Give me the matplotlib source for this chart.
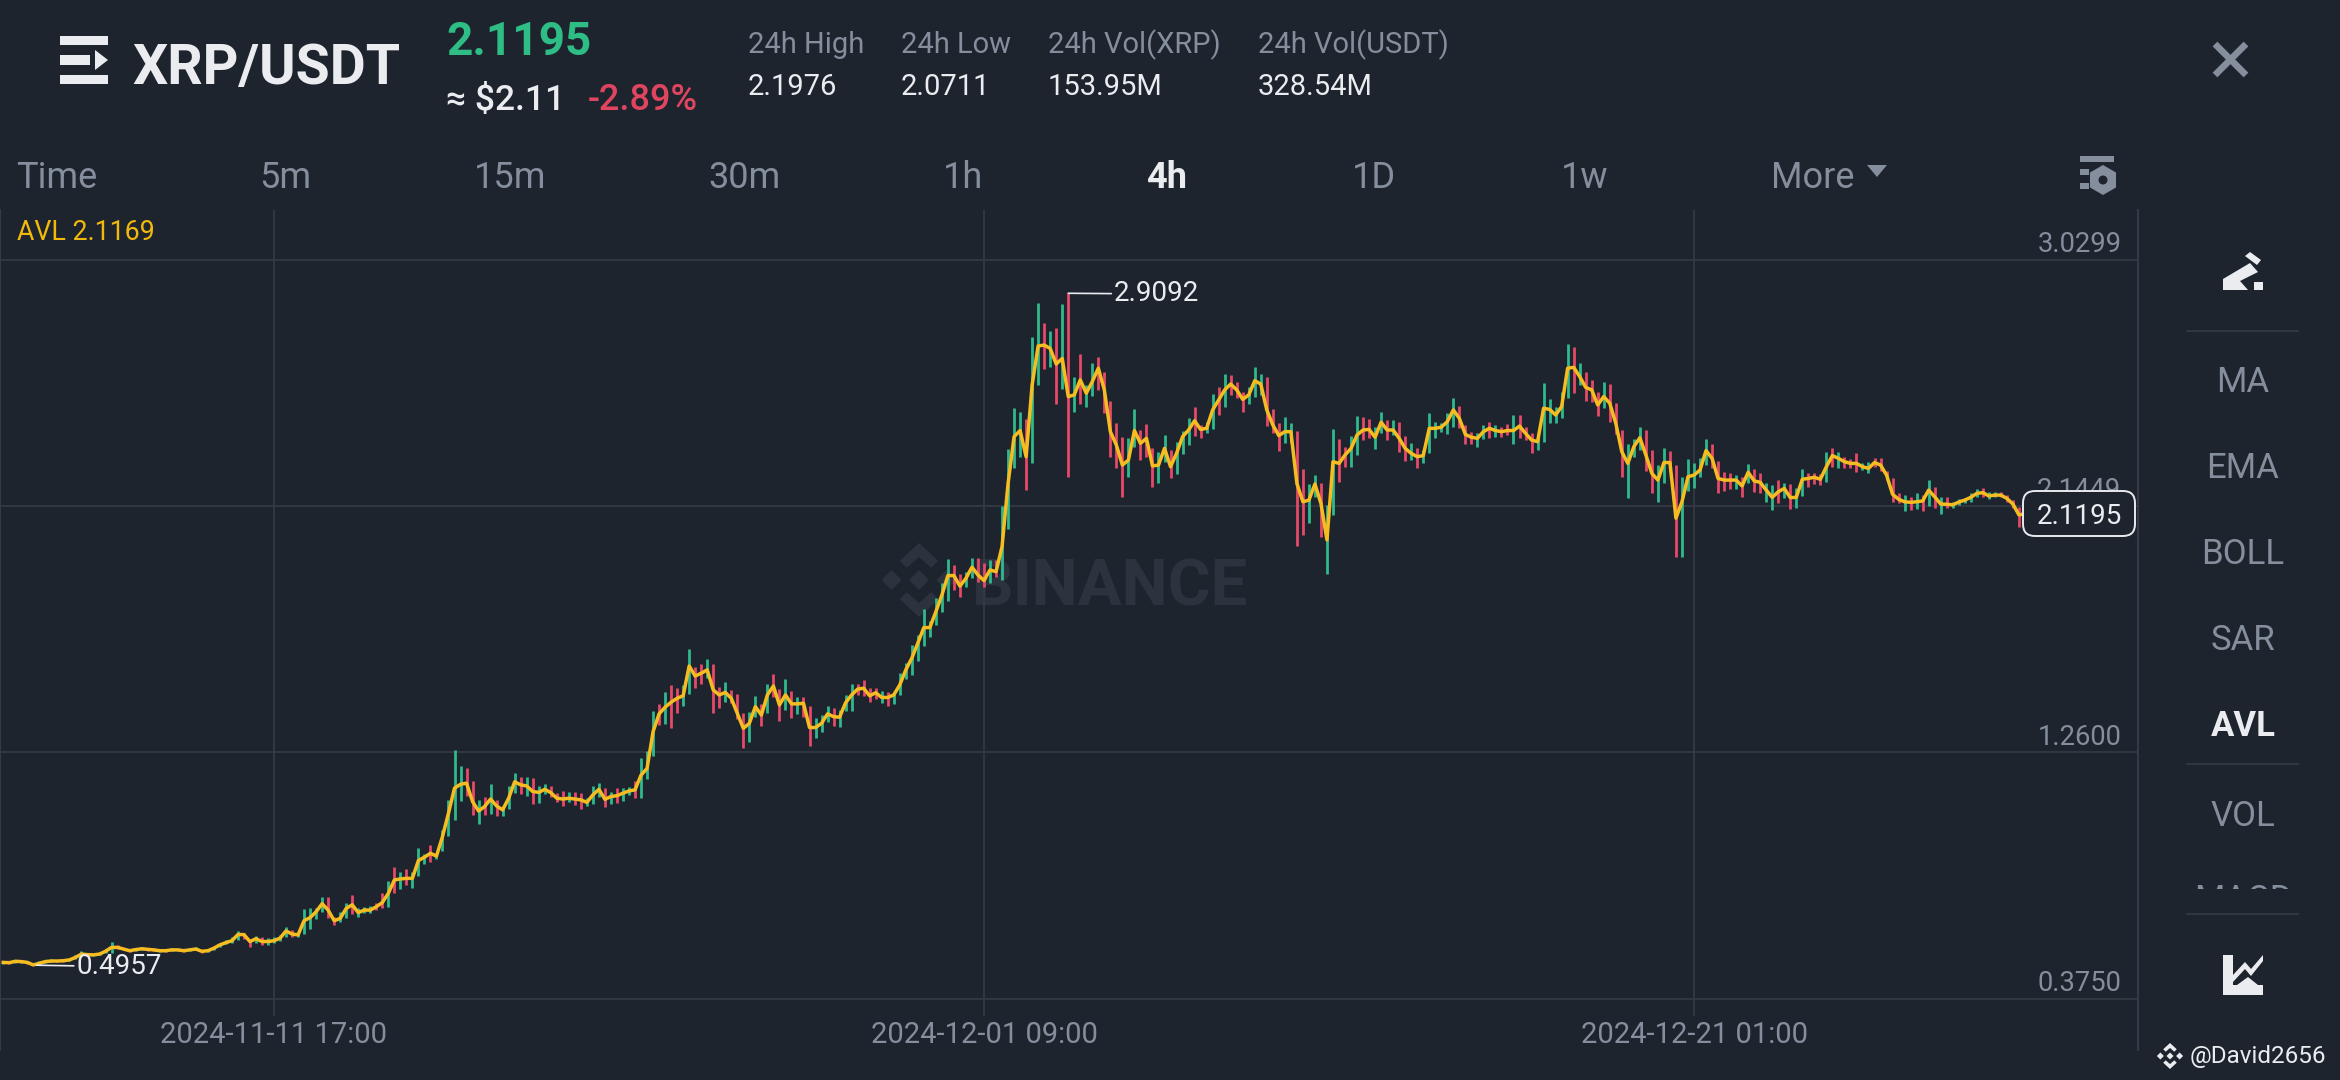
import matplotlib
matplotlib.use('Agg')
import matplotlib.pyplot as plt
from matplotlib.patches import Polygon, FancyBboxPatch, Rectangle, Circle, RegularPolygon
import numpy as np

plt.rcParams['font.family'] = ['Roboto', 'DejaVu Sans']

BG = '#1e242e'
GRID = '#353b46'
GREY = '#848e9c'
GREEN = '#2fb98c'
RED = '#e54a68'
YELLOW = '#f5bd22'

# 4h candles
avl_price = [
    .505,.504,.509,.508,.505,.496,.502,.508,.510,.510,
    .511,.514,.523,.535,.533,.532,.535,.545,.559,.559,
    .553,.547,.551,.554,.552,.550,.547,.547,.550,.550,
    .547,.550,.553,.545,.547,.556,.568,.576,.583,.605,
    .605,.580,.590,
    .580,.580,.583,.592,.618,.607,.604,
    .655,.666,.687,.716,.693,.655,.663,.699,.712,.684,
    .693,.693,.705,.720,.753,.801,.805,.807,.807,.871,
    .883,.897,.887,.957,1.041,1.131,1.145,1.149,1.083,1.049,
    1.065,1.092,1.067,1.053,1.095,1.154,1.143,1.139,1.119,1.116,
    1.127,1.115,1.095,1.092,1.095,1.092,1.089,1.080,1.107,1.127,
    1.091,1.101,1.104,1.113,1.121,1.125,1.178,1.202,
    1.334,1.398,1.422,1.440,1.454,1.463,1.570,1.534,1.544,1.556,
    1.484,1.466,1.475,1.454,1.400,1.346,1.364,1.424,1.394,1.466,
    1.498,1.430,1.466,1.434,1.434,1.436,1.349,1.349,1.364,1.398,
    1.388,1.386,1.438,1.466,1.487,1.490,1.463,1.474,1.457,1.457,
    1.466,1.502,1.556,1.598,1.652,1.708,1.708,1.765,1.825,1.895,
    1.895,1.857,1.885,1.925,1.897,1.877,1.915,1.909,1.999,2.226,
    2.394,2.416,2.322,2.580,2.720,2.723,2.711,2.655,2.675,2.538,
    2.544,2.598,2.550,2.592,2.640,2.562,2.412,2.364,2.292,2.310,
    2.416,2.370,2.388,2.289,2.292,2.352,2.286,2.334,2.394,2.418,
    2.451,2.420,2.424,2.490,2.526,2.562,2.583,2.562,2.528,2.544,
    2.595,2.583,2.490,2.436,2.398,2.412,2.412,2.226,2.160,2.166,
    2.224,2.154,2.023,
    2.304,2.298,2.328,2.352,2.400,2.418,2.420,2.392,2.446,2.418,
    2.418,2.388,2.352,2.334,2.322,2.326,2.424,2.424,2.428,2.448,
    2.490,2.460,2.402,2.392,2.388,2.412,2.424,2.416,2.412,2.416,
    2.416,2.432,2.406,2.382,2.376,2.496,2.492,2.472,2.502,2.640,
    2.643,2.610,2.571,2.562,2.508,2.538,2.514,2.442,2.340,2.298,
    2.358,2.390,2.328,2.262,2.238,2.301,2.301,2.101,2.160,2.250,
    2.256,2.274,2.344,2.316,2.244,2.238,2.238,2.238,2.217,2.266,
    2.235,2.230,2.202,2.176,2.196,2.208,2.175,2.176,2.241,2.244,
    2.248,2.241,2.286,2.326,2.316,2.304,2.298,2.298,2.286,2.280,
    2.301,2.292,2.256,2.187,2.169,2.160,2.158,2.160,2.163,2.202,
    2.178,2.152,2.151,2.149,2.159,2.166,2.176,2.190,2.193,2.181,
    2.184,2.184,2.172,2.152,2.113,2.1169,
]

high_price = [
    .510,.508,.512,.512,.508,.501,.510,.512,.516,.514,
    .515,.519,.530,.545,.538,.537,.540,.552,.577,.566,
    .558,.553,.557,.562,.557,.555,.552,.552,.557,.554,
    .552,.556,.562,.551,.552,.562,.575,.586,.595,.617,
    .612,.588,.600,
    .595,.592,.598,.604,.631,.622,.616,
    .697,.702,.699,.739,.739,.669,.687,.720,.747,.699,
    .703,.708,.717,.753,.799,.847,.829,.839,.831,.915,
    .895,.927,.899,.981,1.089,1.268,1.212,1.202,1.158,1.089,
    1.101,1.145,1.089,1.067,1.139,1.184,1.172,1.172,1.166,1.139,
    1.145,1.140,1.113,1.122,1.116,1.116,1.113,1.095,1.139,1.151,
    1.131,1.119,1.131,1.131,1.134,1.158,1.238,1.265,
    1.408,1.432,1.475,1.502,1.490,1.502,1.630,1.568,1.576,1.595,
    1.577,1.496,1.511,1.484,1.468,1.402,1.404,1.462,1.432,1.505,
    1.540,1.486,1.523,1.481,1.457,1.457,1.428,1.384,1.394,1.428,
    1.418,1.412,1.466,1.505,1.504,1.520,1.490,1.490,1.480,1.475,
    1.478,1.546,1.580,1.646,1.681,1.774,1.733,1.816,1.867,1.954,
    1.933,1.900,1.909,1.957,1.957,1.939,1.951,1.951,2.145,2.350,
    2.496,2.484,2.456,2.751,2.873,2.801,2.774,2.783,2.869,2.9092,
    2.607,2.690,2.580,2.657,2.679,2.628,2.522,2.442,2.394,2.388,
    2.493,2.418,2.439,2.352,2.340,2.400,2.346,2.374,2.414,2.462,
    2.499,2.436,2.448,2.547,2.571,2.619,2.616,2.592,2.556,2.574,
    2.646,2.619,2.607,2.492,2.442,2.463,2.442,2.414,2.278,2.224,
    2.256,2.226,2.148,
    2.420,2.386,2.358,2.398,2.470,2.464,2.456,2.430,2.484,2.454,
    2.454,2.446,2.396,2.370,2.352,2.346,2.478,2.446,2.442,2.478,
    2.532,2.504,2.436,2.412,2.408,2.436,2.448,2.436,2.428,2.438,
    2.472,2.472,2.430,2.408,2.406,2.586,2.529,2.502,2.556,2.727,
    2.715,2.658,2.628,2.598,2.556,2.592,2.583,2.516,2.418,2.368,
    2.386,2.430,2.418,2.346,2.292,2.354,2.343,2.292,2.248,2.313,
    2.298,2.316,2.386,2.368,2.307,2.266,2.265,2.256,2.248,2.295,
    2.277,2.262,2.226,2.220,2.238,2.226,2.224,2.208,2.278,2.262,
    2.265,2.260,2.340,2.352,2.340,2.322,2.313,2.334,2.298,2.304,
    2.316,2.316,2.272,2.244,2.190,2.184,2.178,2.190,2.184,2.238,
    2.214,2.178,2.178,2.160,2.169,2.175,2.193,2.205,2.208,2.196,
    2.196,2.196,2.184,2.166,2.142,2.135,
]

low_price = [
    .500,.500,.504,.503,.500,.495,.497,.503,.505,.506,
    .506,.509,.518,.528,.528,.527,.530,.540,.540,.553,
    .548,.543,.546,.549,.547,.545,.543,.543,.545,.545,
    .542,.545,.548,.540,.542,.551,.561,.570,.575,.585,
    .590,.560,.575,
    .568,.568,.574,.583,.598,.595,.595,
    .606,.624,.661,.687,.666,.639,.649,.663,.679,.669,
    .681,.684,.693,.699,.705,.756,.770,.783,.774,.816,
    .859,.867,.875,.905,.959,1.017,1.084,1.104,1.036,1.002,
    1.035,1.037,1.032,1.031,1.055,1.113,1.109,1.104,1.074,1.079,
    1.110,1.101,1.083,1.067,1.083,1.071,1.055,1.067,1.074,1.101,
    1.065,1.074,1.077,1.085,1.107,1.095,1.097,1.163,
    1.247,1.358,1.362,1.349,1.400,1.426,1.469,1.490,1.505,1.526,
    1.402,1.418,1.440,1.436,1.378,1.274,1.298,1.388,1.356,1.402,
    1.457,1.372,1.412,1.382,1.398,1.388,1.284,1.313,1.334,1.370,
    1.356,1.352,1.410,1.410,1.466,1.463,1.440,1.452,1.436,1.428,
    1.434,1.466,1.523,1.538,1.589,1.642,1.673,1.717,1.765,1.805,
    1.843,1.819,1.855,1.885,1.873,1.855,1.869,1.891,1.879,2.061,
    2.280,2.320,2.202,2.298,2.580,2.636,2.646,2.511,2.564,2.250,
    2.484,2.511,2.502,2.540,2.562,2.480,2.322,2.280,2.176,2.248,
    2.358,2.310,2.322,2.212,2.226,2.304,2.244,2.260,2.330,2.364,
    2.398,2.388,2.406,2.420,2.472,2.502,2.544,2.532,2.484,2.510,
    2.538,2.544,2.432,2.406,2.342,2.370,2.370,2.001,2.041,2.083,
    2.178,2.035,1.900,
    2.113,2.230,2.286,2.286,2.328,2.382,2.388,2.350,2.406,2.382,
    2.400,2.338,2.308,2.310,2.283,2.301,2.337,2.388,2.412,2.402,
    2.430,2.424,2.366,2.366,2.356,2.384,2.388,2.392,2.394,2.400,
    2.368,2.388,2.382,2.334,2.346,2.376,2.442,2.442,2.460,2.532,
    2.552,2.580,2.523,2.520,2.470,2.496,2.448,2.404,2.250,2.172,
    2.322,2.346,2.272,2.190,2.160,2.226,2.268,1.960,1.963,2.200,
    2.208,2.250,2.292,2.280,2.190,2.200,2.205,2.205,2.176,2.226,
    2.196,2.190,2.160,2.131,2.157,2.172,2.133,2.139,2.181,2.214,
    2.224,2.220,2.230,2.286,2.280,2.280,2.280,2.268,2.274,2.262,
    2.286,2.272,2.238,2.160,2.155,2.128,2.131,2.133,2.128,2.145,
    2.136,2.116,2.136,2.136,2.149,2.155,2.160,2.178,2.178,2.170,
    2.176,2.176,2.160,2.136,2.071,2.095,
]

bar_dir = ("grggrrgggr" "rgggrggggr" "rrggrrgrgr" "rggrgggggg" "rrgrggggrg"
           "ggggrrggrg" "ggrrgrgrgg" "grgggggrrg" "rgrgggrgrg" "grrrgrrggg"
           "rgrggrgggr" "grrggrrgrr" "grrrggrgrr" "grgrrgggrg" "ggrrrrgrgg"
           "ggggggggrr" "ggrrgrgggg" "rggrgrgrgr" "ggrrrrrggr" "rrggrgggrr"
           "ggrgrrrggg" "rrrggrrggr" "ggrrggrrgg" "rgrrgrgggg" "ggrrrggrgr"
           "rgrrrggggg" "grgrrrgrrr" "gggrrggrrg" "ggggrrrrgr" "grrggrgrgg"
           "rrrgrgrrrg" "grrrrrgrgr" "grgrgggggr" "ggrrrrg")

price_ticks = [3.0299, 2.1449, 1.2600, 0.3750]
price_labels = ['3.0299', '2.1449', '1.2600', '0.3750']
date_pos = [45, 163, 281]
date_labels = ['2024-11-11 17:00', '2024-12-01 09:00', '2024-12-21 01:00']
tabs = ['5m', '15m', '30m', '1h', '1D', '1w']
tab_x = [285, 510, 745, 963, 1374, 1585]
side_items = ['MA', 'EMA', 'BOLL', 'SAR', 'VOL']
side_y = [379, 465, 551, 637, 813]
stat_names = ['24h High', '24h Low', '24h Vol(XRP)', '24h Vol(USDT)']
stat_values = ['2.1976', '2.0711', '153.95M', '328.54M']
stat_x = [748, 901, 1048, 1258]

W, H = 2340, 1080
fig = plt.figure(figsize=(W / 100, H / 100), dpi=100, facecolor=BG)

ax = fig.add_axes([0, 30 / H, 2138 / W, 840 / H], zorder=1)
ax.set_facecolor('none')
ax.set_xlim(-0.537, 354.79)
ax.set_ylim(0.1903, 3.2084)
ax.set_xticks([])
ax.set_yticks([])
for s in ['top', 'bottom']:
    ax.spines[s].set_visible(False)
for s in ['left', 'right']:
    ax.spines[s].set_color(GRID)
    ax.spines[s].set_linewidth(1.5)

for v, lab in zip(price_ticks, price_labels):
    ax.axhline(v, color=GRID, lw=1.2, zorder=1)
    ax.annotate(lab, (1, v), xycoords=ax.get_yaxis_transform(), xytext=(-12, 11),
                textcoords='offset points', ha='right', va='center', fontsize=19.7, color=GREY)
for p, lab in zip(date_pos, date_labels):
    ax.axvline(p, ymin=35 / 840, color=GRID, lw=1.2, zorder=1)
    ax.annotate(lab, (p, 0), xycoords=ax.get_xaxis_transform(), xytext=(0, 10.5),
                textcoords='offset points', ha='center', va='center', fontsize=21, color=GREY)

idx = np.arange(len(avl_price))
cols = [GREEN if c == 'g' else RED for c in bar_dir]
ax.vlines(idx, low_price, high_price, colors=cols, lw=2.0, zorder=3)
ax.plot(idx, avl_price, color=YELLOW, lw=2.5, solid_joinstyle='round', zorder=4)

# high / low callouts
i_hi = int(np.argmax(high_price))
i_lo = int(np.argmin(low_price))
ax.annotate('2.9092', (i_hi, high_price[i_hi]), xytext=(33, -0.5), textcoords='offset points',
            ha='left', va='center', fontsize=20, color='#eaecef',
            arrowprops=dict(arrowstyle='-', color='#eaecef', lw=1.2, shrinkA=0, shrinkB=0), zorder=5)
ax.annotate('0.4957', (i_lo + 0.5, low_price[i_lo]), xytext=(29, -1), textcoords='offset points',
            ha='left', va='center', fontsize=20, color='#eaecef',
            arrowprops=dict(arrowstyle='-', color='#eaecef', lw=1.2, shrinkA=0, shrinkB=0), zorder=5)

# screen chrome, in screenshot pixels
ui = fig.add_axes([0, 0, 1, 1], zorder=2)
ui.set_xlim(0, W)
ui.set_ylim(H, 0)
ui.axis('off')
bg_ax = fig.add_axes([0, 0, 1, 1], zorder=0)
bg_ax.set_xlim(0, W)
bg_ax.set_ylim(H, 0)
bg_ax.axis('off')


def t(x, y, s, size, color=GREY, ha='left', weight='normal', where=ui, **kw):
    return where.text(x, y + 3, s, fontsize=size, color=color, ha=ha, va='center', fontweight=weight, **kw)


def poly(pts, color, where=ui):
    where.add_patch(Polygon(pts, closed=True, fc=color, ec='none'))


def binance_logo(cx, cy, r, color, where):
    d = r * 0.27
    for dx, dy in [(-r * 0.74, 0), (r * 0.74, 0), (0, 0)]:
        poly([(cx + dx - d, cy + dy), (cx + dx, cy + dy - d), (cx + dx + d, cy + dy), (cx + dx, cy + dy + d)], color, where)
    for sgn in (-1, 1):
        poly([(cx - r * 0.52, cy + sgn * r * 0.52), (cx, cy + sgn * r), (cx + r * 0.52, cy + sgn * r * 0.52),
              (cx + r * 0.33, cy + sgn * r * 0.33), (cx, cy + sgn * r * 0.62), (cx - r * 0.33, cy + sgn * r * 0.33)], color, where)


# header
WHITE = '#eaecef'
for y0, y1 in [(36, 45), (75, 84)]:
    ui.add_patch(Rectangle((60, y0), 48, y1 - y0, fc=WHITE, ec='none'))
ui.add_patch(Rectangle((60, 55), 30, 10, fc=WHITE, ec='none'))
poly([(95, 50), (108, 60), (95, 70)], WHITE)
t(132, 66, 'XRP/USDT', 40, WHITE, weight='bold')
t(446, 39, '2.1195', 33, '#2ebd85', weight='bold')
t(446, 97, '≈ $2.11', 25.5, WHITE, weight='medium')
t(588, 97, '-2.89%', 26, '#e0455f', weight='medium')
for x, a, b in zip(stat_x, stat_names, stat_values):
    t(x, 42, a, 21, GREY)
    t(x, 84, b, 21, WHITE)
ui.plot([2215, 2246], [44, 75], color=GREY, lw=4.8, solid_capstyle='butt')
ui.plot([2215, 2246], [75, 44], color=GREY, lw=4.8, solid_capstyle='butt')

# interval tabs
t(16, 175, 'Time', 26, GREY)
for x, s in zip(tab_x, tabs):
    t(x, 175, s, 26, GREY, ha='center')
t(1167, 175, '4h', 26, WHITE, ha='center', weight='bold')
t(1771, 175, 'More', 26, GREY)
poly([(1867, 165), (1887, 165), (1877, 177)], GREY)
ui.add_patch(Rectangle((2080, 156), 34, 6, fc=GREY, ec='none'))
ui.add_patch(Rectangle((2080, 169), 9, 6, fc=GREY, ec='none'))
ui.add_patch(Rectangle((2080, 183), 9, 6, fc=GREY, ec='none'))
ui.add_patch(RegularPolygon((2103, 180), 6, radius=15, fc=GREY, ec='none'))
ui.add_patch(Circle((2103, 180), 4.5, fc=BG, ec='none'))

t(17, 230, 'AVL 2.1169', 19.3, '#f0b90b')

# last price box
ui.add_patch(FancyBboxPatch((2030, 498), 98, 31, boxstyle='round,pad=7,rounding_size=12', fc=BG, ec='#e8eaed', lw=1.4, zorder=6))
t(2079, 514, '2.1195', 20, WHITE, ha='center', zorder=7)

# right side menu
for y0 in [331, 764, 914]:
    ui.plot([2187, 2298], [y0, y0], color=GRID, lw=1.2)
for y0, s in zip(side_y, side_items):
    t(2243, y0, s, 25, GREY, ha='center')
t(2243, 723, 'AVL', 25, WHITE, ha='center', weight='bold')
macd = t(2243, 897, 'MACD', 25, GREY, ha='center')
macd.set_clip_path(Rectangle((2180, 880), 120, 9, transform=ui.transData))
macd.set_clip_on(True)
poly([(2223, 290), (2223, 279), (2250, 263), (2258, 272), (2240, 281), (2248, 290)], WHITE)
poly([(2245, 256), (2250, 252), (2261, 260), (2257, 265)], WHITE)
ui.add_patch(Rectangle((2254, 282), 9, 8, fc=WHITE, ec='none'))
poly([(2223, 955), (2233, 955), (2233, 985), (2263, 985), (2263, 995), (2223, 995)], WHITE)
poly([(2233, 975), (2245, 962), (2251, 969), (2263, 955), (2263, 961), (2251, 976), (2245, 969), (2233, 982)], WHITE)
poly([(2237, 985), (2248, 977), (2258, 985)], WHITE)

binance_logo(2170, 1056, 13, WHITE, ui)
t(2190, 1054, '@David2656', 17.5, WHITE)

# watermark sits under the candles
binance_logo(919, 580, 37, '#2d333e', bg_ax)
t(972, 585, 'BINANCE', 47, '#2d333e', weight='bold', where=bg_ax)

fig.savefig('out.png', dpi=100, facecolor=BG)
